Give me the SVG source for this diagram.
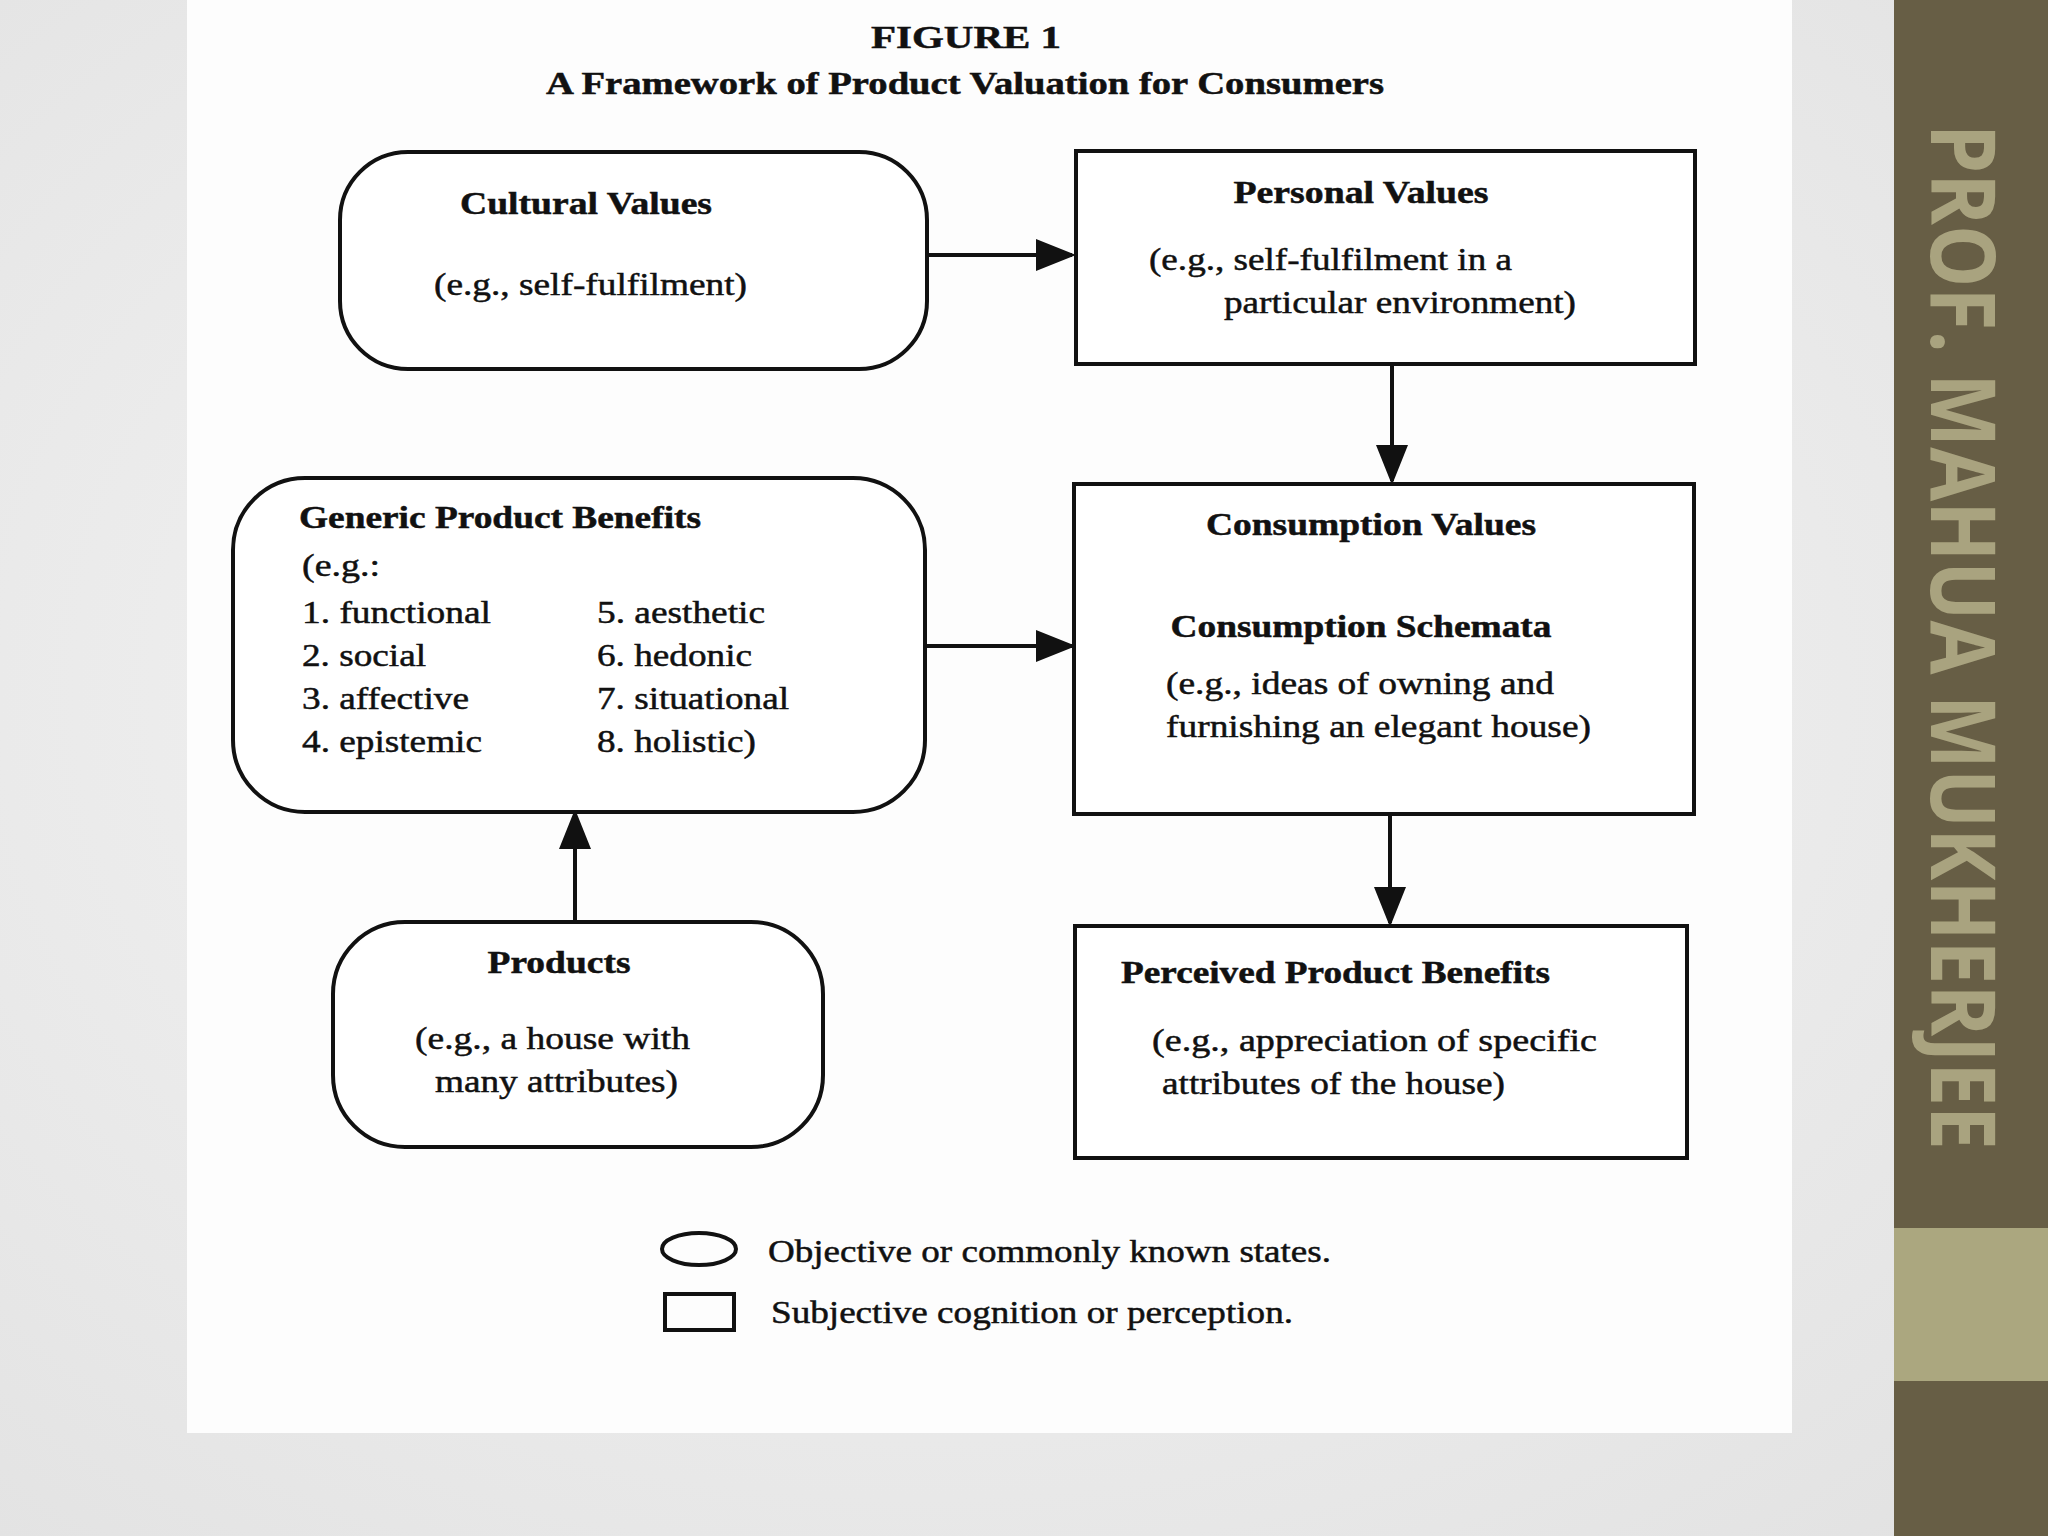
<svg xmlns="http://www.w3.org/2000/svg" width="2048" height="1536" viewBox="0 0 2048 1536">
<defs>
<radialGradient id="bg" cx="0.45" cy="0.45" r="0.75">
<stop offset="0" stop-color="#f6f6f6"/>
<stop offset="1" stop-color="#e2e2e2"/>
</radialGradient>
<marker id="ah" viewBox="0 0 10 8" refX="9" refY="4" markerWidth="40" markerHeight="32" markerUnits="userSpaceOnUse" orient="auto">
<path d="M0,0 L10,4 L0,8 Z" fill="#111"/>
</marker>
<style>
.box{fill:#fff;stroke:#111;stroke-width:4}
.conn{stroke:#111;stroke-width:4;fill:none}
.t{font-family:"Liberation Serif","Times New Roman",serif;fill:#111;font-size:32px;stroke:#111;stroke-width:0.5}
.b{font-weight:bold}
.m{text-anchor:middle}
</style>
</defs>
<rect x="0" y="0" width="2048" height="1536" fill="url(#bg)"/>
<rect x="187" y="0" width="1605" height="1433" fill="#fdfdfd"/>
<g id="sidebar">
<rect x="1894" y="0" width="154" height="1536" fill="#675e45"/>
<rect x="1894" y="1228" width="154" height="153" fill="#aba77f"/>
<text transform="translate(1931,124) rotate(90)" font-family="'Open Sans','Liberation Sans',sans-serif" font-weight="bold" font-size="90" fill="#a9a37f" textLength="1026" lengthAdjust="spacingAndGlyphs">PROF. MAHUA MUKHERJEE</text>
</g>
<g id="title">
<text class="t b m" x="966" y="48" font-size="36" textLength="190" lengthAdjust="spacingAndGlyphs">FIGURE 1</text>
<text class="t m" x="965" y="94" font-size="34" textLength="838" lengthAdjust="spacingAndGlyphs" font-weight="bold">A Framework of Product Valuation for Consumers</text>
</g>
<g id="connectors">
<line class="conn" x1="927" y1="255" x2="1072" y2="255" marker-end="url(#ah)"/>
<line class="conn" x1="1392" y1="364" x2="1392" y2="481" marker-end="url(#ah)"/>
<line class="conn" x1="925" y1="646" x2="1072" y2="646" marker-end="url(#ah)"/>
<line class="conn" x1="575" y1="921" x2="575" y2="813" marker-end="url(#ah)"/>
<line class="conn" x1="1390" y1="814" x2="1390" y2="923" marker-end="url(#ah)"/>
</g>
<g id="cultural">
<rect class="box" x="340" y="152" width="587" height="217" rx="68" ry="68"/>
<text class="t b m" x="586" y="214" textLength="252" lengthAdjust="spacingAndGlyphs">Cultural Values</text>
<text class="t" x="434" y="295" textLength="313" lengthAdjust="spacingAndGlyphs">(e.g., self-fulfilment)</text>
</g>
<g id="personal">
<rect class="box" x="1076" y="151" width="619" height="213"/>
<text class="t b m" x="1361" y="203" textLength="255" lengthAdjust="spacingAndGlyphs">Personal Values</text>
<text class="t" x="1149" y="270" textLength="363" lengthAdjust="spacingAndGlyphs">(e.g., self-fulfilment in a</text>
<text class="t" x="1224" y="313" textLength="352" lengthAdjust="spacingAndGlyphs">particular environment)</text>
</g>
<g id="generic">
<rect class="box" x="233" y="478" width="692" height="334" rx="72" ry="72"/>
<text class="t b" x="299" y="528" textLength="402" lengthAdjust="spacingAndGlyphs">Generic Product Benefits</text>
<text class="t" x="302" y="576" font-size="34" textLength="78" lengthAdjust="spacingAndGlyphs">(e.g.:</text>
<text class="t" x="302" y="623" font-size="34" textLength="189" lengthAdjust="spacingAndGlyphs">1. functional</text>
<text class="t" x="302" y="666" font-size="34" textLength="124" lengthAdjust="spacingAndGlyphs">2. social</text>
<text class="t" x="302" y="709" font-size="34" textLength="167" lengthAdjust="spacingAndGlyphs">3. affective</text>
<text class="t" x="302" y="752" font-size="34" textLength="180" lengthAdjust="spacingAndGlyphs">4. epistemic</text>
<text class="t" x="597" y="623" font-size="34" textLength="168" lengthAdjust="spacingAndGlyphs">5. aesthetic</text>
<text class="t" x="597" y="666" font-size="34" textLength="155" lengthAdjust="spacingAndGlyphs">6. hedonic</text>
<text class="t" x="597" y="709" font-size="34" textLength="192" lengthAdjust="spacingAndGlyphs">7. situational</text>
<text class="t" x="597" y="752" font-size="34" textLength="159" lengthAdjust="spacingAndGlyphs">8. holistic)</text>
</g>
<g id="consumption">
<rect class="box" x="1074" y="484" width="620" height="330"/>
<text class="t b m" x="1371" y="535" textLength="330" lengthAdjust="spacingAndGlyphs">Consumption Values</text>
<text class="t b m" x="1361" y="637" textLength="381" lengthAdjust="spacingAndGlyphs">Consumption Schemata</text>
<text class="t" x="1166" y="694" textLength="388" lengthAdjust="spacingAndGlyphs">(e.g., ideas of owning and</text>
<text class="t" x="1166" y="737" textLength="425" lengthAdjust="spacingAndGlyphs">furnishing an elegant house)</text>
</g>
<g id="products">
<rect class="box" x="333" y="922" width="490" height="225" rx="72" ry="72"/>
<text class="t b m" x="559" y="973" textLength="143" lengthAdjust="spacingAndGlyphs">Products</text>
<text class="t" x="415" y="1049" textLength="275" lengthAdjust="spacingAndGlyphs">(e.g., a house with</text>
<text class="t" x="435" y="1092" textLength="243" lengthAdjust="spacingAndGlyphs">many attributes)</text>
</g>
<g id="perceived">
<rect class="box" x="1075" y="926" width="612" height="232"/>
<text class="t b" x="1121" y="983" textLength="429" lengthAdjust="spacingAndGlyphs">Perceived Product Benefits</text>
<text class="t" x="1152" y="1051" textLength="445" lengthAdjust="spacingAndGlyphs">(e.g.,  appreciation of specific</text>
<text class="t" x="1162" y="1094" textLength="343" lengthAdjust="spacingAndGlyphs">attributes of the house)</text>
</g>
<g id="legend">
<ellipse cx="699" cy="1249" rx="37" ry="16" fill="none" stroke="#111" stroke-width="4"/>
<rect x="665" y="1294" width="69" height="36" fill="none" stroke="#111" stroke-width="4"/>
<text class="t" x="768" y="1262" textLength="563" lengthAdjust="spacingAndGlyphs">Objective or commonly known states.</text>
<text class="t" x="771" y="1323" textLength="522" lengthAdjust="spacingAndGlyphs">Subjective cognition or perception.</text>
</g>
</svg>
